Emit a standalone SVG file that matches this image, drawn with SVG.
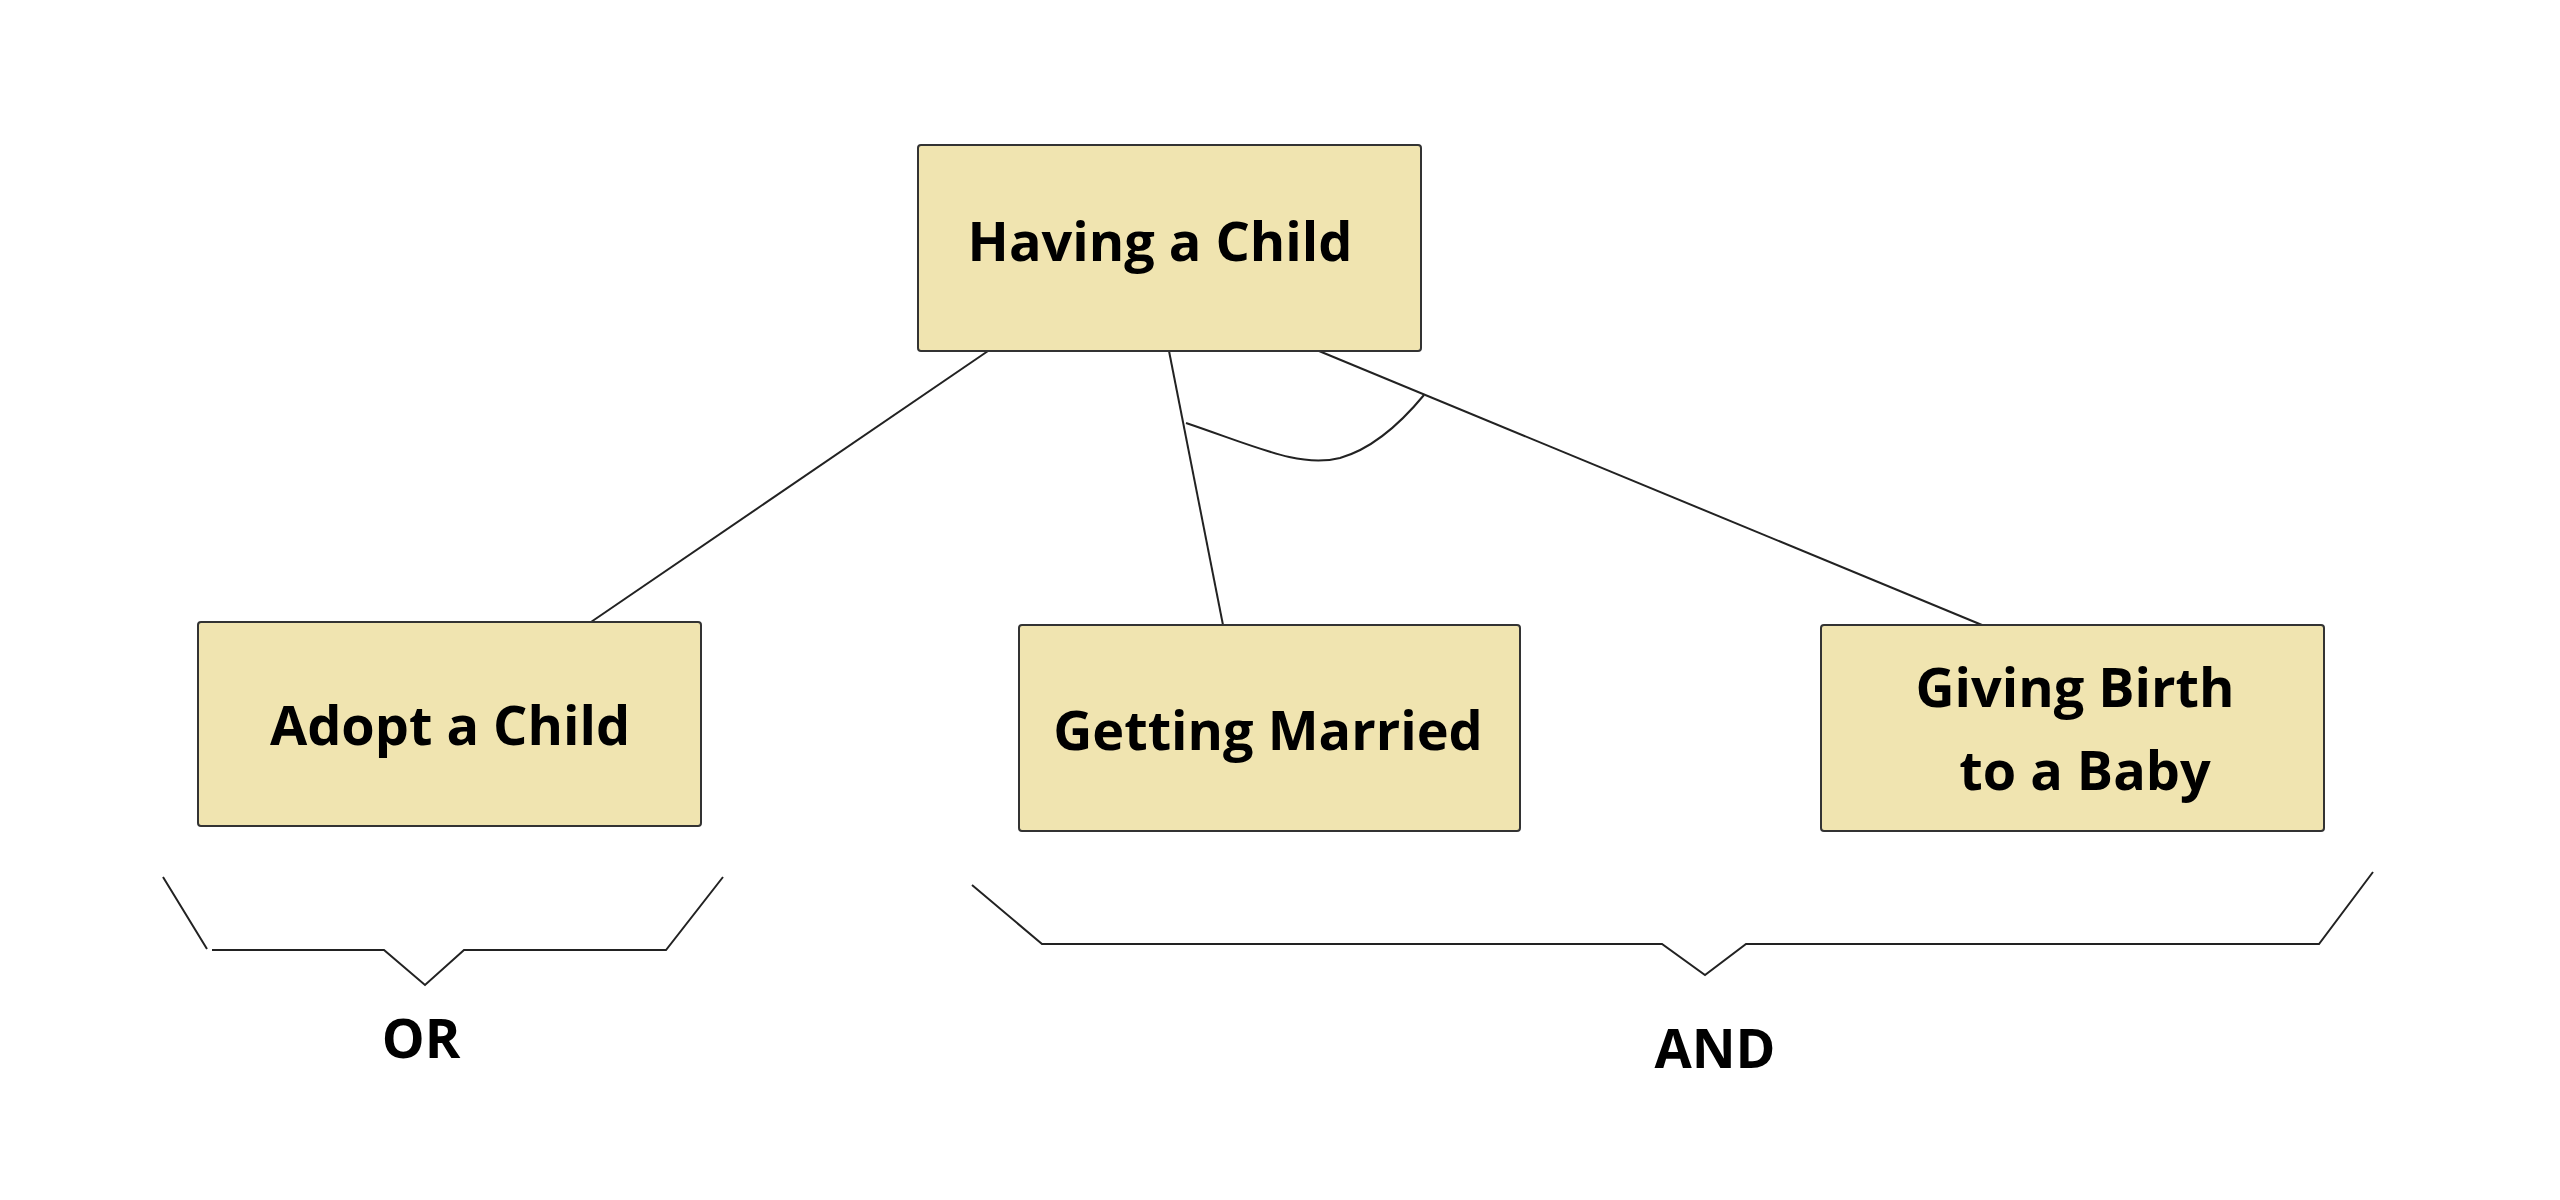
<svg xmlns="http://www.w3.org/2000/svg" width="2560" height="1200" viewBox="0 0 2560 1200">
<style>
.box{fill:#f0e4b0;stroke:#333;stroke-width:2}
.t{font-family:"Open Sans","Liberation Sans",sans-serif;font-weight:bold;font-size:54px;fill:#000;text-anchor:middle}
.l{fill:none;stroke:#222;stroke-width:2}
</style>
<rect width="2560" height="1200" fill="#fff"/>
<g id="connectors">
<line class="l" x1="988" y1="351" x2="591" y2="622"/>
<line class="l" x1="1169" y1="351" x2="1223" y2="625"/>
<line class="l" x1="1319" y1="351" x2="1982" y2="625"/>
<path class="l" d="M1186,423 C1260,448 1300,468 1340,458 C1375,448 1405,418 1424,395"/>
</g>
<g id="top"><rect class="box" x="918" y="145" width="503" height="206" rx="3"/><text class="t" x="1160" y="261">Having a Child</text></g>
<g id="adopt"><rect class="box" x="198" y="622" width="503" height="204" rx="3"/><text class="t" x="450" y="745">Adopt a Child</text></g>
<g id="married"><rect class="box" x="1019" y="625" width="501" height="206" rx="3"/><text class="t" x="1268" y="750">Getting Married</text></g>
<g id="birth"><rect class="box" x="1821" y="625" width="503" height="206" rx="3"/><text class="t" x="2075" y="707">Giving Birth</text><text class="t" x="2085" y="790">to a Baby</text></g>
<g id="or">
<path class="l" d="M163,877 L207,949 M212,950 L384,950 L425,985 L464,950 L666,950 L723,877"/>
<text class="t" x="421" y="1058">OR</text>
</g>
<g id="and">
<path class="l" d="M972,885 L1042,944 L1662,944 L1705,975 L1746,944 L2319,944 L2373,872"/>
<text class="t" x="1715" y="1068">AND</text>
</g>
</svg>
